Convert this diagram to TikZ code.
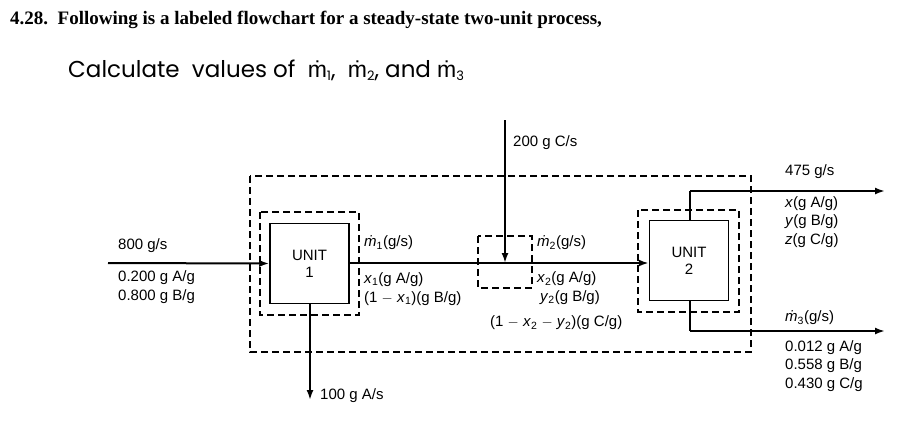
\documentclass[tikz,border=0pt]{standalone}
\usepackage{fontspec}
\setmainfont{Liberation Serif}
\newfontfamily\lab{Liberation Sans}
\newfontfamily\hand{Poppins}
\usetikzlibrary{arrows.meta}
\newcommand{\md}{\textit{\.m}}
\newcommand{\mh}{{\lab\.m}}
\newcommand{\vi}[1]{\textit{#1}}
\begin{document}
\begin{tikzpicture}[x=1pt,y=-1pt,
  unitbox/.style={draw,line width=1.5pt,minimum width=79pt,minimum height=80pt,font=\lab\fontsize{15}{17}\selectfont,align=center,inner sep=0},
  dbox/.style={draw,line width=1.2pt,dash pattern=on 7pt off 4pt},
  flow/.style={line width=2pt,-{Latex[length=10pt,width=7pt]}},
  pipe/.style={line width=2pt},
  lbl/.style={font=\lab\fontsize{15}{18.5}\selectfont,inner sep=0,align=left,anchor=west}]
\useasboundingbox (0,0) rectangle (910,432);
\node[anchor=west,inner sep=0,font=\bfseries\fontsize{19}{22}\selectfont] (title) at (10,20) {4.28.\ \ Following is a labeled flowchart for a steady-state two-unit process,};
\node[anchor=west,inner sep=0,font=\hand\fontsize{23}{26}\selectfont] (hw) at (68,70) {Calculate\ \ values of\ \ \mh\raisebox{-3pt}{\fontsize{13}{14}\selectfont 1},\ \ \mh\raisebox{-3pt}{\fontsize{13}{14}\selectfont 2},\ and\ \mh\raisebox{-3pt}{\fontsize{13}{14}\selectfont 3}};
% dashed boundaries
\draw[dbox] (250,176) rectangle (751,352);
\draw[dbox] (260,212) rectangle (359,315);
\draw[dbox] (478,236) rectangle (532,288);
\draw[dbox] (638,210) rectangle (739,312);
% units
\node[unitbox] (u1) at (309.5,263.5) {UNIT\\1};
\node[unitbox] (u2) at (689,260.5) {UNIT\\2};
\coordinate (in) at (108,263);
\coordinate (mix) at (505,263);
\coordinate (ctop) at (505,120);
\coordinate (a1) at (310,400);
\coordinate (t1) at (690,191);
\coordinate (t2) at (885,191);
\coordinate (b1) at (690,331);
\coordinate (b2) at (885,331);
\draw[flow] (in) -- (u1.west);
\draw[pipe] (u1.east |- mix) -- (mix);
\draw[flow] (mix) -- (u2.west |- mix);
\draw[flow] (ctop) -- (mix);
\draw[flow] (u1.south -| a1) -- (a1);
\draw[pipe] (u2.north -| t1) -- (t1);
\draw[flow] (t1) -- (t2);
\draw[pipe] (u2.south -| b1) -- (b1);
\draw[flow] (b1) -- (b2);
% labels
\node[lbl] (l800) at (118,246) {800 g/s};
\node[lbl] (lin) at (118,287) {0.200 g A/g\\0.800 g B/g};
\node[lbl] (l200) at (513,143) {200 g C/s};
\node[lbl] (l100) at (320,396) {100 g A/s};
\node[lbl] (lm1) at (364,243) {\md\textsubscript{1}(g/s)};
\node[lbl] (lx1) at (364,289) {\vi{x}\textsubscript{1}(g A/g)\\(1 $-$ \vi{x}\textsubscript{1})(g B/g)};
\node[lbl] (lm2) at (537,243) {\md\textsubscript{2}(g/s)};
\node[lbl] (lx2) at (537,288) {\vi{x}\textsubscript{2}(g A/g)\\\hspace*{3pt}\vi{y}\textsubscript{2}(g B/g)};
\node[lbl] (lc2) at (490,323) {(1 $-$ \vi{x}\textsubscript{2} $-$ \vi{y}\textsubscript{2})(g C/g)};
\node[lbl] (l475) at (785,172) {475 g/s};
\node[lbl] (lxyz) at (785,222) {\vi{x}(g A/g)\\\vi{y}(g B/g)\\\vi{z}(g C/g)};
\node[lbl] (lm3) at (785,318) {\md\textsubscript{3}(g/s)};
\node[lbl] (lout) at (785,366) {0.012 g A/g\\0.558 g B/g\\0.430 g C/g};
\end{tikzpicture}
\end{document}
